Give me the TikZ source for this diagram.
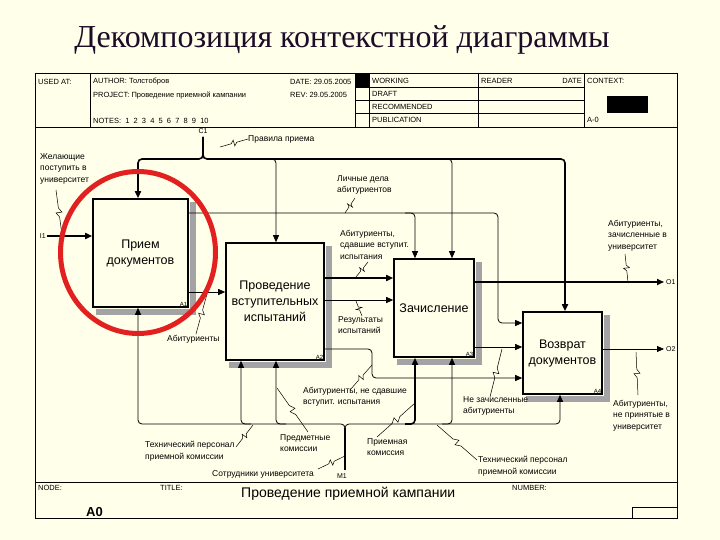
\documentclass[tikz,border=0pt]{standalone}
\usepackage{fontspec}
\setmainfont{Liberation Sans}
\newfontfamily\titlefont{Liberation Serif}
\usetikzlibrary{arrows.meta,calc}
\definecolor{bg}{RGB}{255,255,234}
\definecolor{circred}{RGB}{226,32,32}
\definecolor{titlecol}{RGB}{28,12,40}
\tikzset{
  box/.style={draw,line width=1.6pt,fill=bg,inner sep=0pt,align=center,font=\fontsize{12.5}{16}\selectfont},
  shadefill/.style={fill=black!36},
  arr/.style={line width=0.8pt,rounded corners=4pt,-{Triangle[length=7pt,width=6pt]}},
  arrk/.style={arr,line width=1.6pt},
  ln/.style={line width=0.8pt,rounded corners=4pt},
  lnk/.style={line width=1.6pt},
  lbl/.style={font=\fontsize{8.5}{11.5}\selectfont,align=left,inner sep=0pt,anchor=north west},
  hdr/.style={font=\fontsize{7.5}{8}\selectfont,inner sep=0pt,anchor=west},
  num/.style={font=\fontsize{6}{7}\selectfont,inner sep=1.5pt,anchor=south east},
  io/.style={font=\fontsize{7}{8}\selectfont,inner sep=0pt},
  sq/.style={line width=0.5pt},
  frm/.style={line width=0.8pt},
}
\newcommand{\squig}[2]{\draw[sq] (#1) -- ($(#1)!0.4!(#2)$) -- ($(#1)!0.5!(#2)!3pt!90:(#2)$) -- ($(#1)!0.5!(#2)!3pt!-90:(#2)$) -- ($(#1)!0.6!(#2)$) -- (#2);}
\newcommand{\boxshade}[1]{%
  \fill[shadefill] ($(#1.north east)+(0.8,4)$) rectangle ($(#1.south east)+(7,7)$);
  \fill[shadefill] ($(#1.south west)+(4,0.8)$) rectangle ($(#1.south east)+(7,7)$);}
\begin{document}
\begin{tikzpicture}[x=1pt,y=-1pt]
\fill[bg] (0,0) rectangle (720,540);
\useasboundingbox (0,0) rectangle (720,540);
\node[font=\titlefont\fontsize{32}{36}\selectfont,text=titlecol] (title) at (342,40) {Декомпозиция контекстной диаграммы};
% frame and header
\draw[frm] (35,73) rectangle (677,518);
\draw[frm] (35,127) -- (677,127);
\draw[frm] (35,482) -- (677,482);
\draw[frm] (90,73) -- (90,127);
\draw[frm] (355,73) -- (355,127);
\draw[frm] (369,73) -- (369,127);
\draw[frm] (478,73) -- (478,127);
\draw[frm] (584,73) -- (584,127);
\foreach \yy in {87.5,100,113} \draw[frm] (355,\yy) -- (584,\yy);
\fill (355,73) rectangle (369,87.5);
\fill (607,96) rectangle (648,113);
\draw[frm] (632,507) rectangle (677,518);
\node[hdr] (usedat) at (38,82) {USED AT:};
\node[hdr] (author) at (93,82) {AUTHOR:  Толстобров};
\node[hdr] (project) at (93,95) {PROJECT:  Проведение приемной кампании};
\node[hdr] (date1) at (290,82) {DATE:  29.05.2005};
\node[hdr] (rev) at (290,95) {REV:  29.05.2005};
\node[hdr] (notes) at (93,121) {NOTES:\ \ 1\ \ 2\ \ 3\ \ 4\ \ 5\ \ 6\ \ 7\ \ 8\ \ 9\ \ 10};
\node[hdr] (working) at (372,81) {WORKING};
\node[hdr] (draft) at (372,94) {DRAFT};
\node[hdr] (recom) at (372,107) {RECOMMENDED};
\node[hdr] (publ) at (372,120) {PUBLICATION};
\node[hdr] (reader) at (481,81) {READER};
\node[hdr,anchor=east] (date2) at (582,81) {DATE};
\node[hdr] (context) at (587,81) {CONTEXT:};
\node[hdr] (aminus) at (587,120) {A-0};
\node[hdr] (nodel) at (38,488) {NODE:};
\node[hdr] (titlel) at (160,488) {TITLE:};
\node[font=\fontsize{14}{16}\selectfont,anchor=west,inner sep=0pt] (dtitle) at (241,494) {Проведение приемной кампании};
\node[hdr] (number) at (512,488) {NUMBER:};
\node[font=\bfseries\fontsize{13}{15}\selectfont,anchor=west,inner sep=0pt] (a0) at (86,512) {A0};
% boxes
\node[box,minimum width=95pt,minimum height=108pt] (A1) at (140.5,253) {Прием\\документов};
\node[box,minimum width=98pt,minimum height=117pt] (A2) at (275,301.5) {Проведение\\вступительных\\испытаний};
\node[box,minimum width=80pt,minimum height=98pt] (A3) at (434,308) {Зачисление};
\node[box,minimum width=79pt,minimum height=82pt] (A4) at (562.5,353) {Возврат\\документов};
\boxshade{A1}\boxshade{A2}\boxshade{A3}\boxshade{A4}
\node[num] (n1) at (A1.south east) {A1};
\node[num] (n2) at (A2.south east) {A2};
\node[num] (n3) at (A3.south east) {A3};
\node[num] (n4) at (A4.south east) {A4};
% control C1
\node[io] (c1) at (203,131.5) {C1};
\draw[arrk] (203,137) -- (203,159) -- (138,159) -- (138,0 |- A1.north);
\draw[arrk] (203,137) -- (203,159) -- (565,159) -- (565,0 |- A4.north);
\draw[arr] (266,159) -- (276,159) -- (276,0 |- A2.north);
\draw[arr] (442,159) -- (452,159) -- (452,0 |- A3.north);
% input I1
\node[io,anchor=east] (i1) at (46,236) {I1};
\draw[arrk] ([xshift=1pt]i1.east) -- (A1.west |- i1.east);
% outputs
\node[io,anchor=west] (o1) at (666,282) {O1};
\node[io,anchor=west] (o2) at (666,349) {O2};
\draw[arr] (A1.east |- 0,292) -- (A2.west |- 0,292);
\draw[arr] (A1.east |- 0,213) -- (415,213) -- (415,0 |- A3.north);
\draw[arr] (405,213) -- (498,213) -- (498,323) -- (A4.west |- 0,323);
\draw[arrk] (A2.east |- 0,278) -- (A3.west |- 0,278);
\draw[arr] (A2.east |- 0,300) -- (A3.west |- 0,300);
\draw[arr] (A2.east |- 0,349) -- (372,349) -- (372,378) -- (A4.west |- 0,378);
\draw[arrk] (A3.east |- 0,282) -- ([xshift=-2pt]o1.west);
\draw[arr] (A3.east |- 0,347) -- (A4.west |- 0,347);
\draw[arr] (A4.east |- 0,349) -- ([xshift=-2pt]o2.west);
% mechanisms
\node[io] (m1) at (342,476) {M1};
\draw[lnk] (345,470) -- (345,428);
\draw[arr] (345,440) -- (345,424) -- (138,424) -- (138,0 |- A1.south);
\draw[arr] (345,440) -- (345,424) -- (560,424) -- (560,0 |- A4.south);
\draw[arr] (251,424) -- (241,424) -- (241,0 |- A2.south);
\draw[arr] (286,424) -- (276,424) -- (276,0 |- A2.south);
\draw[arrk] (405,424) -- (415,424) -- (415,0 |- A3.south);
\draw[arr] (442,424) -- (452,424) -- (452,0 |- A3.south);
% labels
\node[lbl,anchor=west] (lpr) at (248,139) {Правила приема};
\squig{220,147}{lpr.west}
\node[lbl] (lzh) at (40,153) {Желающие\\поступить в\\университет};
\squig{56,190}{62,235}
\node[lbl] (lld) at (337,175) {Личные дела\\абитуриентов};
\squig{345,213}{355,198}
\node[lbl] (lsd) at (340,230) {Абитуриенты,\\сдавшие вступит.\\испытания};
\squig{356,277}{368,262}
\node[lbl] (lres) at (338,316) {Результаты\\испытаний};
\squig{356,301}{362,316}
\node[lbl,anchor=west] (lab) at (167,339) {Абитуриенты};
\squig{207,294}{196,334}
\node[lbl] (lnsd) at (303,387) {Абитуриенты, не сдавшие\\вступит. испытания};
\squig{350,390}{372,365}
\node[lbl] (lnz) at (463,396) {Не зачисленные\\абитуриенты};
\squig{490,397}{502,349}
\node[lbl] (lzu) at (608,220) {Абитуриенты,\\зачисленные в\\университет};
\squig{625,254}{628,282}
\node[lbl] (lnu) at (613,400) {Абитуриенты,\\не принятые в\\университет};
\squig{636,352}{638,395}
\node[lbl] (ltp1) at (145,441) {Технический персонал\\приемной комиссии};
\squig{253,425}{236,447}
\node[lbl] (lpk) at (280,434) {Предметные\\комиссии};
\squig{277,388}{308,432}
\node[lbl,anchor=west] (lsu) at (212,474) {Сотрудники университета};
\squig{318,469}{345,456}
\node[lbl] (lprk) at (367,438) {Приемная\\комиссия};
\squig{377,437}{415,403}
\node[lbl] (ltp2) at (478,456) {Технический персонал\\приемной комиссии};
\squig{437,425}{477,460}
% highlight
\draw[circred,line width=5pt] (138,252.5) ellipse [x radius=77.5pt, y radius=81pt];
\end{tikzpicture}
\end{document}
